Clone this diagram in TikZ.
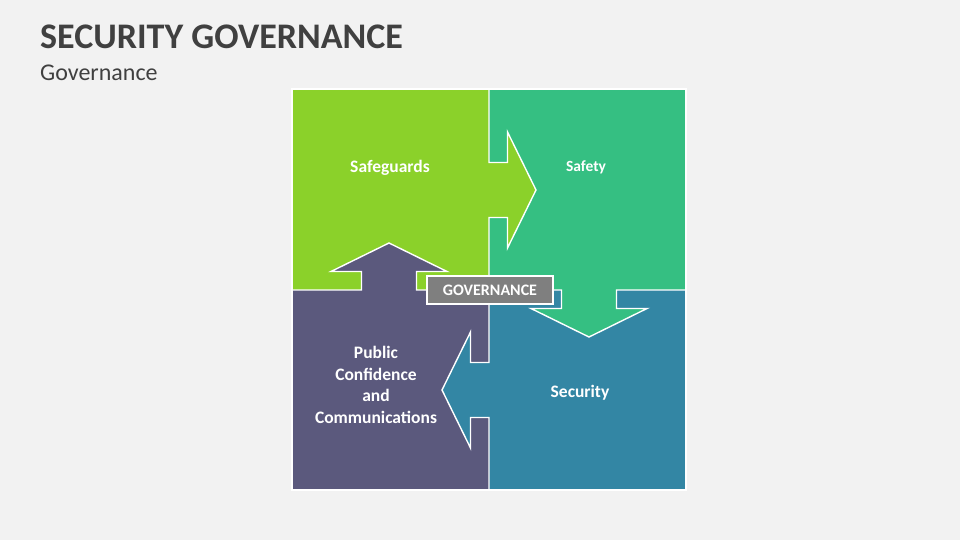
\documentclass[tikz,border=0pt]{standalone}
\usepackage{fontspec}
\setmainfont{Carlito}
\definecolor{bg}{HTML}{F2F2F2}
\definecolor{cGreen}{HTML}{8BD12A}
\definecolor{cTeal}{HTML}{35BF82}
\definecolor{cBlue}{HTML}{3386A4}
\definecolor{cPurple}{HTML}{5B597D}
\definecolor{cGray}{HTML}{7F7F7F}
\definecolor{cTitle}{HTML}{404040}
\tikzset{
  tile/.style={draw=white, line width=1.4pt, line join=miter},
  lbl/.style={text=white, font=\fontsize{17.5}{21.5}\selectfont\bfseries, align=center, inner sep=0pt},
}
\begin{document}
\begin{tikzpicture}[x=1pt,y=-1pt]
\fill[bg] (0,0) rectangle (960,540);
\useasboundingbox (0,0) rectangle (960,540);
% title
\node[anchor=base west, inner sep=0pt, text=cTitle, font=\fontsize{36}{40}\selectfont\bfseries] (title) at (40,48.5) {SECURITY GOVERNANCE};
\node[anchor=base west, inner sep=0pt, text=cTitle, font=\fontsize{24}{28}\selectfont] (subtitle) at (40,81) {Governance};
% top-left: Safeguards
\fill[cGreen] (292,89) -- (489,89) -- (489,162.5) -- (507.5,162.5) -- (507.5,132) -- (536,190) -- (507.5,248) -- (507.5,217.5) -- (489,217.5) -- (489,290)
  -- (416.5,290) -- (416.5,271.5) -- (447,271.5) -- (389,243) -- (331,271.5) -- (361.5,271.5) -- (361.5,290) -- (292,290) -- cycle;
% top-right: Safety
\fill[cTeal] (489,89) -- (686,89) -- (686,290) -- (616.5,290) -- (616.5,308.5) -- (647,308.5) -- (589,337) -- (531,308.5) -- (561.5,308.5) -- (561.5,290) -- (489,290)
  -- (489,217.5) -- (507.5,217.5) -- (507.5,248) -- (536,190) -- (507.5,132) -- (507.5,162.5) -- (489,162.5) -- cycle;
% bottom-right: Security
\fill[cBlue] (489,290) -- (561.5,290) -- (561.5,308.5) -- (531,308.5) -- (589,337) -- (647,308.5) -- (616.5,308.5) -- (616.5,290) -- (686,290) -- (686,490) -- (489,490)
  -- (489,417.5) -- (470.5,417.5) -- (470.5,448) -- (442,390) -- (470.5,332) -- (470.5,362.5) -- (489,362.5) -- cycle;
% bottom-left: Public Confidence
\fill[cPurple] (292,290) -- (361.5,290) -- (361.5,271.5) -- (331,271.5) -- (389,243) -- (447,271.5) -- (416.5,271.5) -- (416.5,290) -- (489,290)
  -- (489,362.5) -- (470.5,362.5) -- (470.5,332) -- (442,390) -- (470.5,448) -- (470.5,417.5) -- (489,417.5) -- (489,490) -- (292,490) -- cycle;
% white outlines
\draw[tile] (292,89) -- (489,89) -- (489,162.5) -- (507.5,162.5) -- (507.5,132) -- (536,190) -- (507.5,248) -- (507.5,217.5) -- (489,217.5) -- (489,290)
  -- (416.5,290) -- (416.5,271.5) -- (447,271.5) -- (389,243) -- (331,271.5) -- (361.5,271.5) -- (361.5,290) -- (292,290) -- cycle;
\draw[tile] (489,89) -- (686,89) -- (686,290) -- (616.5,290) -- (616.5,308.5) -- (647,308.5) -- (589,337) -- (531,308.5) -- (561.5,308.5) -- (561.5,290) -- (489,290);
\draw[tile] (686,290) -- (686,490) -- (489,490)
  -- (489,417.5) -- (470.5,417.5) -- (470.5,448) -- (442,390) -- (470.5,332) -- (470.5,362.5) -- (489,362.5) -- (489,290);
\draw[tile] (489,490) -- (292,490) -- (292,290);
\draw[draw=white, line width=2pt] (292,89) rectangle (686,490);
% labels
\node[lbl] (safeguards) at (390,168) {Safeguards};
\node[lbl, font=\fontsize{15.5}{19}\selectfont\bfseries] (safety) at (586,167) {Safety};
\node[lbl] (security) at (580,393) {Security};
\node[lbl] (public) at (376,385) {Public\\Confidence\\and\\Communications};
\node[draw=white, line width=1.2pt, fill=cGray, minimum width=126pt, minimum height=28pt, inner sep=0pt, text=white, font=\fontsize{16}{19}\selectfont\bfseries] (gov) at (490,290) {GOVERNANCE};
\end{tikzpicture}
\end{document}
